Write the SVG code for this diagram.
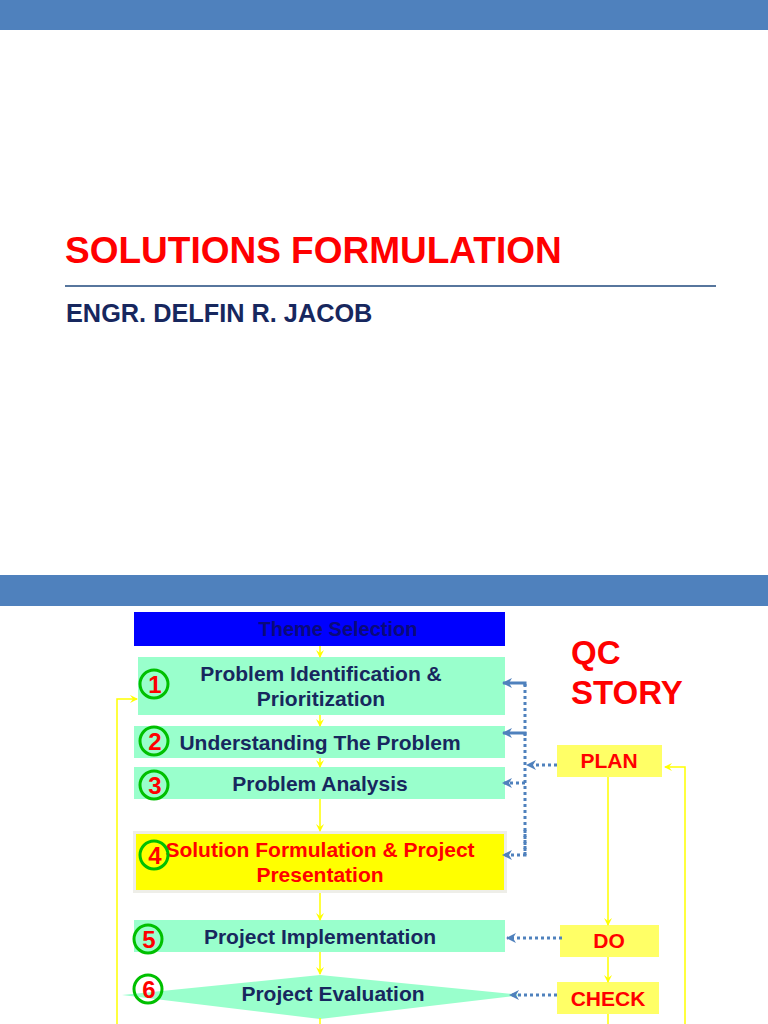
<svg xmlns="http://www.w3.org/2000/svg" width="768" height="1024" viewBox="0 0 768 1024">
<defs>
<marker id="ya" markerWidth="8" markerHeight="8" refX="7" refY="4" orient="auto" markerUnits="userSpaceOnUse"><path d="M0,0 L8,4 L0,8 L3,4 Z" fill="#FFFF00"/></marker>
<marker id="ba" markerWidth="10" markerHeight="10" refX="9" refY="5" orient="auto" markerUnits="userSpaceOnUse"><path d="M0,0 L10,5 L0,10 L3,5 Z" fill="#4F81BD"/></marker>
</defs>
<style>
.t{font-family:"Liberation Sans",Arial,sans-serif;font-weight:bold}
.g{fill:#99FFCC}
.nv{fill:#17275E;font-size:21px}
.c{fill:none;stroke:#00C000;stroke-width:3}
.n{fill:#FF0000;font-size:24px}
.y{stroke:#FFFF00;stroke-width:1.5;fill:none}
.bd{stroke:#4F81BD;stroke-width:3;stroke-dasharray:3,3;fill:none}
.bs{stroke:#4F81BD;stroke-width:3;fill:none}
.q{fill:#FFFF66}
.r{fill:#FF0000;font-size:21px}
</style>
<rect width="768" height="1024" fill="#fff"/>
<rect x="0" y="0" width="768" height="30" fill="#4F81BD"/>
<text class="t" x="65" y="263" font-size="37" fill="#FF0000">SOLUTIONS FORMULATION</text>
<line x1="65" y1="286" x2="716" y2="286" stroke="#1F497D" stroke-width="1.5"/>
<text class="t" x="66" y="322" font-size="25.3" fill="#17275E">ENGR. DELFIN R. JACOB</text>
<rect x="0" y="575" width="768" height="31" fill="#4F81BD"/>

<g id="theme"><rect x="134" y="612" width="371" height="34" fill="#0000FF"/>
<text class="t" x="338" y="636" text-anchor="middle" font-size="20" fill="#0A0A7A">Theme Selection</text></g>
<g id="s1"><rect class="g" x="138" y="657" width="367" height="58"/>
<text class="t nv" x="321" y="681" text-anchor="middle">Problem Identification &amp;</text>
<text class="t nv" x="321" y="706" text-anchor="middle">Prioritization</text>
<circle class="c" cx="154" cy="684" r="14"/><text class="t n" x="155" y="693" text-anchor="middle">1</text></g>
<g id="s2"><rect class="g" x="134" y="726" width="371" height="32"/>
<text class="t nv" x="320" y="750" text-anchor="middle">Understanding The Problem</text>
<circle class="c" cx="154" cy="741" r="14"/><text class="t n" x="155" y="750" text-anchor="middle">2</text></g>
<g id="s3"><rect class="g" x="134" y="767" width="371" height="32"/>
<text class="t nv" x="320" y="791" text-anchor="middle">Problem Analysis</text>
<circle class="c" cx="154" cy="785" r="14"/><text class="t n" x="155" y="794" text-anchor="middle">3</text></g>
<g id="s4"><rect x="133" y="831" width="374" height="62" fill="#EEEEE8"/><rect x="136" y="834" width="368" height="56" fill="#FFFF00"/>
<text class="t r" x="320" y="857" text-anchor="middle">Solution Formulation &amp; Project</text>
<text class="t r" x="320" y="882" text-anchor="middle">Presentation</text>
<circle class="c" cx="154" cy="855" r="14"/><text class="t n" x="155" y="864" text-anchor="middle">4</text></g>
<g id="s5"><rect class="g" x="134" y="920" width="371" height="32"/>
<text class="t nv" x="320" y="944" text-anchor="middle">Project Implementation</text>
<circle class="c" cx="148" cy="939" r="14"/><text class="t n" x="149" y="948" text-anchor="middle">5</text></g>
<g id="s6"><polygon class="g" points="122,995 320,975 522,995 320,1019"/>
<text class="t nv" x="333" y="1001" text-anchor="middle">Project Evaluation</text>
<circle class="c" cx="148" cy="989" r="14"/><text class="t n" x="149" y="998" text-anchor="middle">6</text></g>
<g id="qc"><text class="t" x="571" y="664" font-size="33" fill="#FF0000">QC</text>
<text class="t" x="571" y="704" font-size="33" fill="#FF0000">STORY</text></g>
<g id="plan"><rect class="q" x="557" y="745" width="105" height="32"/><text class="t r" x="609" y="768" text-anchor="middle">PLAN</text></g>
<g id="do"><rect class="q" x="560" y="925" width="99" height="32"/><text class="t r" x="609" y="948" text-anchor="middle">DO</text></g>
<g id="check"><rect class="q" x="557" y="982" width="102" height="32"/><text class="t r" x="608" y="1006" text-anchor="middle">CHECK</text></g>

<g id="connectors">
<line class="y" x1="320" y1="646" x2="320" y2="657" marker-end="url(#ya)"/>
<line class="y" x1="320" y1="715" x2="320" y2="726" marker-end="url(#ya)"/>
<line class="y" x1="320" y1="758" x2="320" y2="767" marker-end="url(#ya)"/>
<line class="y" x1="320" y1="799" x2="320" y2="831" marker-end="url(#ya)"/>
<line class="y" x1="320" y1="893" x2="320" y2="920" marker-end="url(#ya)"/>
<line class="y" x1="320" y1="952" x2="320" y2="974" marker-end="url(#ya)"/>
<line class="y" x1="320" y1="1018" x2="320" y2="1024"/>
<line class="y" x1="608" y1="777" x2="608" y2="925" marker-end="url(#ya)"/>
<line class="y" x1="608" y1="957" x2="608" y2="982" marker-end="url(#ya)"/>
<line class="y" x1="608" y1="1014" x2="608" y2="1024"/>
<polyline class="y" points="685,1024 685,767 665,767" marker-end="url(#ya)"/>
<polyline class="y" points="117,1024 117,699 137,699" marker-end="url(#ya)"/>
<line class="bd" x1="525" y1="684" x2="525" y2="855"/>
<polyline class="bs" points="525,686 525,683 503,683" marker-end="url(#ba)"/>
<polyline class="bs" points="525,736 525,733 503,733" marker-end="url(#ba)"/>
<line class="bd" x1="525" y1="783" x2="503" y2="783" marker-end="url(#ba)"/>
<polyline class="bd" points="525,830 525,855 503,855" marker-end="url(#ba)"/>
<line class="bd" x1="557" y1="765" x2="527" y2="765" marker-end="url(#ba)"/>
<line class="bd" x1="562" y1="938" x2="507" y2="938" marker-end="url(#ba)"/>
<line class="bd" x1="557" y1="995" x2="510" y2="995" marker-end="url(#ba)"/>
</g>
</svg>
